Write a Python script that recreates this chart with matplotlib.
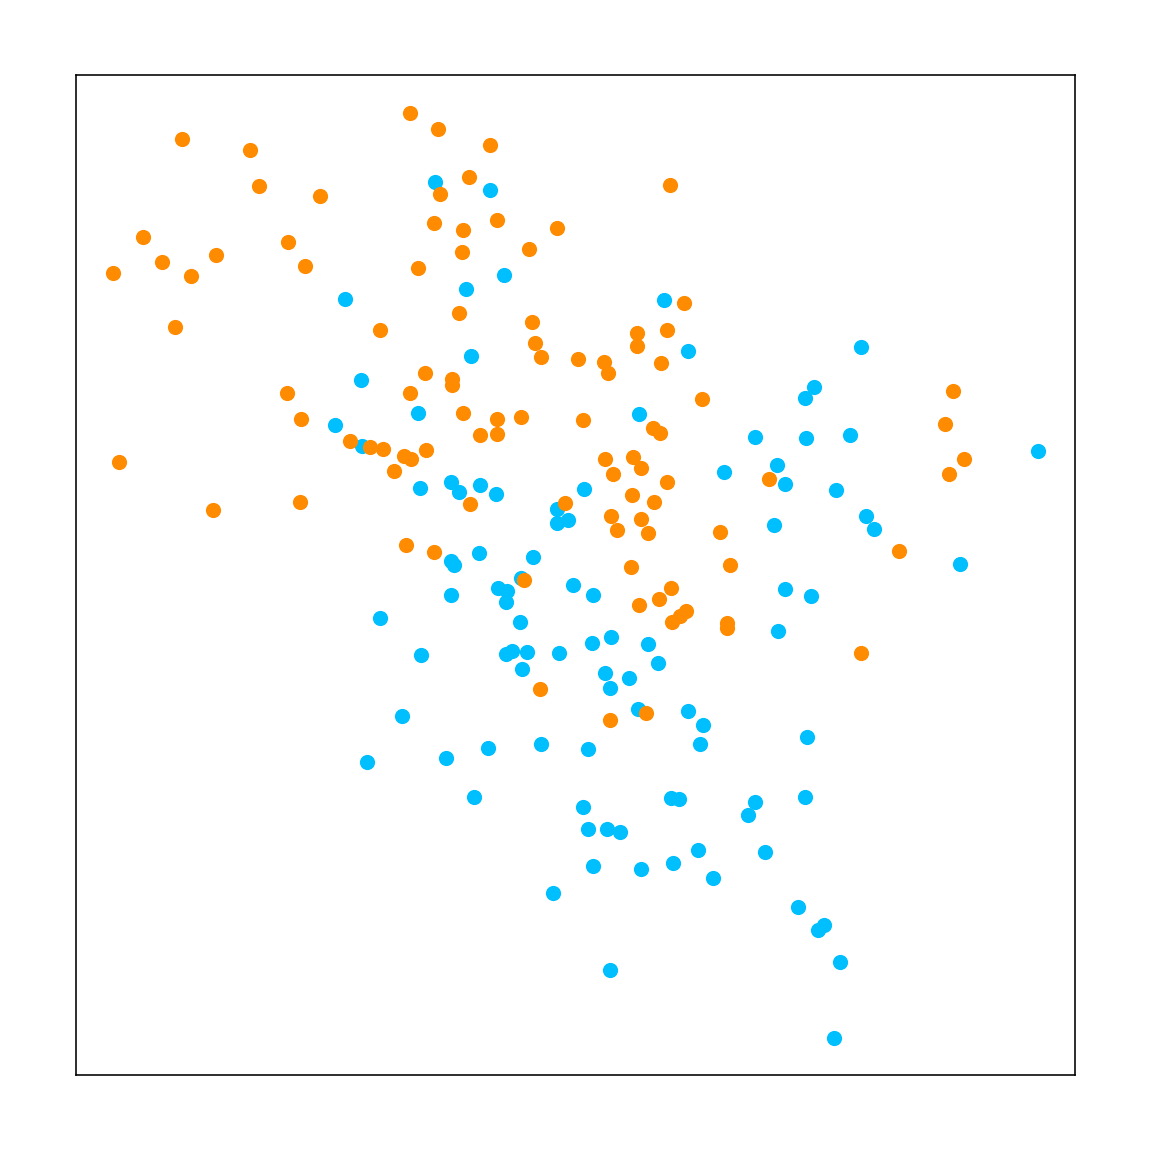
import numpy as np
import matplotlib
matplotlib.use("Agg")
import matplotlib.pyplot as plt

# --- data (x, y in 0..100 units) ---
orange_x = [33.4, 36.2, 10.6, 41.4, 17.4, 39.3, 59.4, 18.3, 36.4, 24.4,
            35.8, 42.1, 38.7, 48.1, 6.7, 21.2, 38.6, 45.3, 14.0, 8.6,
            34.2, 22.9, 3.7, 11.5, 60.8, 38.3, 45.6, 9.9, 30.4, 56.1,
            59.1, 45.9, 56.1, 46.5, 50.2, 52.8, 58.5, 53.2, 34.9, 37.6,
            37.6, 21.1, 33.4, 62.6, 87.7, 22.5, 38.7, 42.1, 44.5, 50.7,
            86.9, 57.7, 58.4, 40.4, 42.1, 27.4, 29.4, 30.7, 35.0, 32.8,
            33.5, 4.3, 52.9, 55.7, 56.5, 53.7, 31.8, 88.8, 87.3, 69.3,
            59.1, 55.6, 57.8, 48.9, 39.4, 22.4, 13.7, 53.5, 56.5, 54.1,
            57.2, 64.4, 33.0, 35.8, 82.3, 65.4, 55.5, 44.8, 59.5, 58.3,
            56.3, 61.0, 60.4, 59.6, 65.1, 65.1, 78.5, 46.4, 57.0, 53.4]
orange_y = [96.2, 94.6, 93.6, 93.0, 92.5, 89.8, 89.0, 88.9, 88.1, 87.9,
            85.2, 85.5, 84.5, 84.7, 83.8, 83.3, 82.3, 82.6, 82.0, 81.3,
            80.7, 80.9, 80.2, 79.9, 77.2, 76.2, 75.3, 74.8, 74.5, 74.2,
            74.5, 73.2, 72.9, 71.8, 71.6, 71.3, 71.2, 70.2, 70.2, 69.6,
            69.0, 68.2, 68.2, 67.6, 68.4, 65.6, 66.2, 65.6, 65.8, 65.5,
            65.1, 64.7, 64.2, 64.0, 64.1, 63.4, 62.8, 62.6, 62.5, 61.9,
            61.6, 61.3, 61.6, 61.8, 60.7, 60.1, 60.4, 61.6, 60.1, 59.6,
            59.3, 58.0, 57.3, 57.2, 57.1, 57.3, 56.5, 55.9, 55.6, 54.5,
            54.2, 54.3, 53.0, 52.3, 52.4, 51.0, 50.8, 49.5, 48.7, 47.6,
            47.0, 46.4, 45.9, 45.3, 45.2, 44.7, 42.2, 38.6, 36.2, 35.5]

blue_x = [35.9, 41.4, 42.8, 39.0, 26.9, 58.8, 78.5, 61.2, 39.5, 28.5,
          73.8, 72.9, 34.2, 56.3, 25.9, 28.6, 67.9, 73.0, 77.4, 96.2,
          64.8, 70.1, 70.9, 76.0, 34.4, 37.5, 38.3, 40.4, 42.0, 50.8,
          48.1, 48.1, 49.2, 69.8, 79.0, 79.8, 37.5, 37.8, 40.3, 45.7,
          44.5, 88.4, 49.7, 51.7, 37.5, 42.2, 43.1, 43.0, 70.9, 73.5,
          30.4, 44.4, 70.2, 53.5, 51.6, 57.2, 34.5, 43.0, 43.6, 45.1,
          48.3, 58.2, 44.6, 52.9, 55.3, 53.4, 56.2, 61.2, 62.7, 32.6,
          73.1, 62.4, 51.2, 46.5, 41.2, 37.0, 29.1, 39.8, 50.7, 59.5,
          60.3, 67.9, 67.2, 72.9, 51.2, 53.1, 54.4, 62.2, 68.9, 51.7,
          56.5, 59.7, 63.7, 47.7, 72.2, 74.8, 74.2, 76.4, 53.4, 75.8]
blue_y = [89.3, 88.5, 80.0, 78.6, 77.6, 77.5, 72.8, 72.4, 71.9, 69.5,
          68.8, 67.7, 66.2, 66.1, 65.0, 62.9, 63.8, 63.7, 64.0, 62.4,
          60.3, 61.0, 59.1, 58.5, 58.7, 59.3, 58.3, 59.0, 58.1, 58.6,
          56.6, 55.2, 55.5, 55.0, 55.9, 54.6, 51.4, 51.0, 52.2, 51.8,
          49.7, 51.1, 49.0, 48.0, 48.0, 48.7, 48.4, 47.3, 48.6, 47.9,
          45.7, 45.3, 44.4, 43.8, 43.2, 43.1, 42.0, 42.1, 42.4, 42.3,
          42.2, 41.2, 40.6, 40.2, 39.7, 38.7, 36.6, 36.4, 35.0, 35.9,
          33.8, 33.1, 32.6, 33.1, 32.7, 31.7, 31.3, 27.8, 26.8, 27.7,
          27.6, 27.3, 26.0, 27.8, 24.6, 24.6, 24.3, 22.5, 22.3, 20.9,
          20.6, 21.2, 19.7, 18.2, 16.8, 15.0, 14.5, 11.3, 10.5, 3.7]

# --- figure ---
fig = plt.figure(figsize=(12, 12), dpi=96)
fig.patch.set_facecolor("white")
ax = fig.add_axes([76 / 1152, 77 / 1152, 999 / 1152, 1000 / 1152])

ax.scatter(blue_x, blue_y, s=130, color="#00BFFF", linewidths=0, zorder=2)
ax.scatter(orange_x, orange_y, s=130, color="#FF8C00", linewidths=0, zorder=3)

ax.set_xlim(0, 99.9)
ax.set_ylim(0, 100)
ax.set_xticks([])
ax.set_yticks([])
for sp in ax.spines.values():
    sp.set_linewidth(1.2)
    sp.set_color("black")

fig.savefig("out.png", dpi=96, facecolor="white")
